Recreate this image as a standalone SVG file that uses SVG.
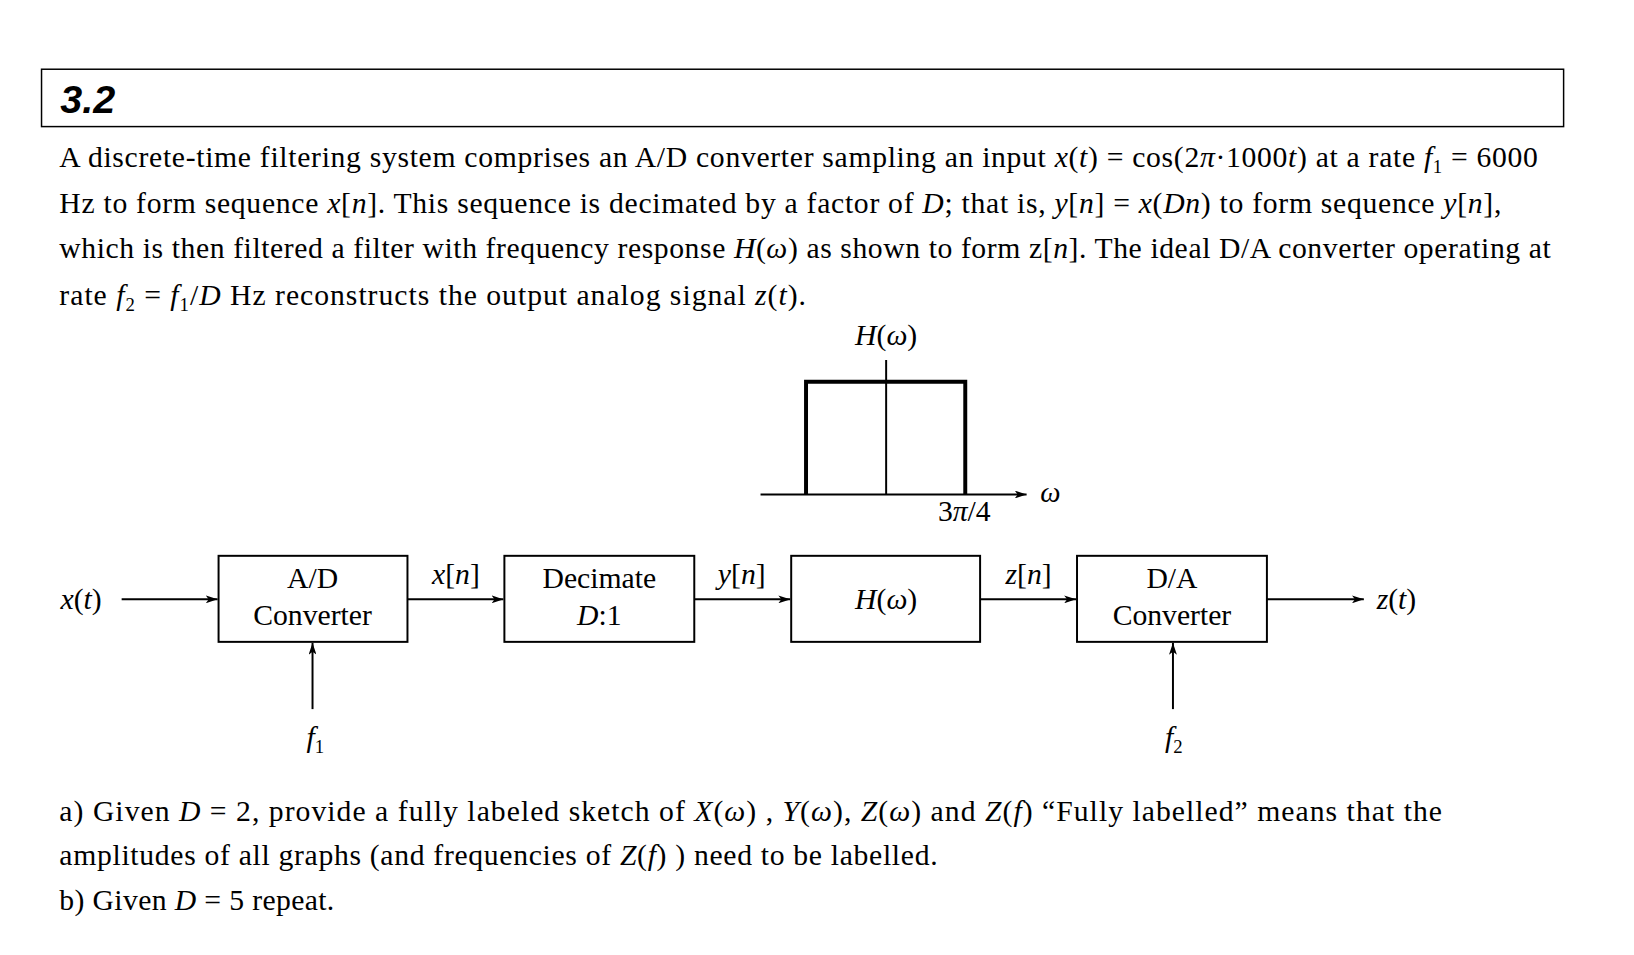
<svg xmlns="http://www.w3.org/2000/svg" width="1634" height="955" viewBox="0 0 1634 955">
<style>
text{font-family:"Liberation Serif","Times New Roman",serif;font-size:29px;fill:#000}
.p{font-size:30px}
.i{font-style:italic}
.c{text-anchor:middle}
.b{fill:#fff;stroke:#000;stroke-width:2}
.l{stroke:#000;stroke-width:2;fill:none}
</style>
<defs><marker id="a" markerWidth="12" markerHeight="8" refX="12" refY="4" orient="auto" markerUnits="userSpaceOnUse"><path d="M0,0L12,4L0,8L3,4Z" fill="#000"/></marker></defs>
<g transform="scale(0.989)">
<rect x="42" y="70" width="1539" height="58" fill="none" stroke="#000" stroke-width="1.5"/>
<text x="61" y="114" style="font-family:'Liberation Sans',Arial,sans-serif;font-weight:bold;font-style:italic;font-size:40px">3.2</text>
<text x="60" y="169" class="p" textLength="1495" lengthAdjust="spacing">A discrete-time filtering system comprises an A/D converter sampling an input <tspan class="i">x</tspan>(<tspan class="i">t</tspan>) = cos(2<tspan class="i">π</tspan>·1000<tspan class="i">t</tspan>) at a rate <tspan class="i">f</tspan><tspan font-size="19" dy="6">1</tspan><tspan dy="-6"> = 6000</tspan></text>
<text x="60" y="215" class="p" textLength="1458" lengthAdjust="spacing">Hz to form sequence <tspan class="i">x</tspan>[<tspan class="i">n</tspan>]. This sequence is decimated by a factor of <tspan class="i">D</tspan>; that is, <tspan class="i">y</tspan>[<tspan class="i">n</tspan>] = <tspan class="i">x</tspan>(<tspan class="i">Dn</tspan>) to form sequence <tspan class="i">y</tspan>[<tspan class="i">n</tspan>],</text>
<text x="60" y="261" class="p" textLength="1508" lengthAdjust="spacing">which is then filtered a filter with frequency response <tspan class="i">H</tspan>(<tspan class="i">ω</tspan>) as shown to form z[<tspan class="i">n</tspan>]. The ideal D/A converter operating at</text>
<text x="60" y="308" class="p" textLength="755" lengthAdjust="spacing">rate <tspan class="i">f</tspan><tspan font-size="19" dy="6">2</tspan><tspan dy="-6"> = </tspan><tspan class="i">f</tspan><tspan font-size="19" dy="6">1</tspan><tspan dy="-6">/</tspan><tspan class="i">D</tspan> Hz reconstructs the output analog signal <tspan class="i">z</tspan>(<tspan class="i">t</tspan>).</text>
<g id="filter-plot">
<text x="896" y="349" class="c p"><tspan class="i">H</tspan>(<tspan class="i">ω</tspan>)</text>
<line x1="896" y1="364" x2="896" y2="500" class="l" stroke-width="1.5"/>
<line x1="769" y1="500" x2="1038" y2="500" class="l" stroke-width="1.5" marker-end="url(#a)"/>
<path d="M815,500V386H976V500" fill="none" stroke="#000" stroke-width="4"/>
<text x="1062" y="508" class="c i">ω</text>
<text x="975" y="527" class="c p">3<tspan class="i">π</tspan>/4</text>
</g>
<g id="ad"><rect x="221" y="562" width="191" height="87" class="b"/><text x="316" y="595" class="c p">A/D</text><text x="316" y="632" class="c p">Converter</text></g>
<g id="dec"><rect x="510" y="562" width="192" height="87" class="b"/><text x="606" y="595" class="c p">Decimate</text><text x="606" y="632" class="c p"><tspan class="i">D</tspan>:1</text></g>
<g id="h"><rect x="800" y="562" width="191" height="87" class="b"/><text x="896" y="616" class="c p"><tspan class="i">H</tspan>(<tspan class="i">ω</tspan>)</text></g>
<g id="da"><rect x="1089" y="562" width="192" height="87" class="b"/><text x="1185" y="595" class="c p">D/A</text><text x="1185" y="632" class="c p">Converter</text></g>
<g id="labels">
<text x="82" y="616" class="c p"><tspan class="i">x</tspan>(<tspan class="i">t</tspan>)</text>
<text x="1412" y="616" class="c p"><tspan class="i">z</tspan>(<tspan class="i">t</tspan>)</text>
<text x="461" y="590" class="c p"><tspan class="i">x</tspan>[<tspan class="i">n</tspan>]</text>
<text x="750" y="590" class="c p"><tspan class="i">y</tspan>[<tspan class="i">n</tspan>]</text>
<text x="1040" y="590" class="c p"><tspan class="i">z</tspan>[<tspan class="i">n</tspan>]</text>
<text x="310" y="755" class="i p">f<tspan font-size="19" dy="6" font-style="normal">1</tspan></text>
<text x="1178" y="755" class="i p">f<tspan font-size="19" dy="6" font-style="normal">2</tspan></text>
</g>
<g id="connectors">
<line x1="123" y1="606" x2="220" y2="606" class="l" marker-end="url(#a)"/>
<line x1="412" y1="606" x2="509" y2="606" class="l" marker-end="url(#a)"/>
<line x1="702" y1="606" x2="799" y2="606" class="l" marker-end="url(#a)"/>
<line x1="991" y1="606" x2="1088" y2="606" class="l" marker-end="url(#a)"/>
<line x1="1281" y1="606" x2="1379" y2="606" class="l" marker-end="url(#a)"/>
<line x1="316" y1="717" x2="316" y2="650" class="l" stroke-width="1.5" marker-end="url(#a)"/>
<line x1="1186" y1="717" x2="1186" y2="650" class="l" stroke-width="1.5" marker-end="url(#a)"/>
</g>
<text x="60" y="830" class="p" textLength="1398" lengthAdjust="spacing">a) Given <tspan class="i">D</tspan> = 2, provide a fully labeled sketch of <tspan class="i">X</tspan>(<tspan class="i">ω</tspan>) , <tspan class="i">Y</tspan>(<tspan class="i">ω</tspan>), <tspan class="i">Z</tspan>(<tspan class="i">ω</tspan>) and  <tspan class="i">Z</tspan>(<tspan class="i">f</tspan>) “Fully labelled” means that the</text>
<text x="60" y="875" class="p" textLength="888" lengthAdjust="spacing">amplitudes of all graphs (and frequencies of <tspan class="i">Z</tspan>(<tspan class="i">f</tspan>) ) need to be labelled.</text>
<text x="60" y="920" class="p" textLength="278" lengthAdjust="spacing">b) Given <tspan class="i">D</tspan> = 5 repeat.</text>
</g>
</svg>
